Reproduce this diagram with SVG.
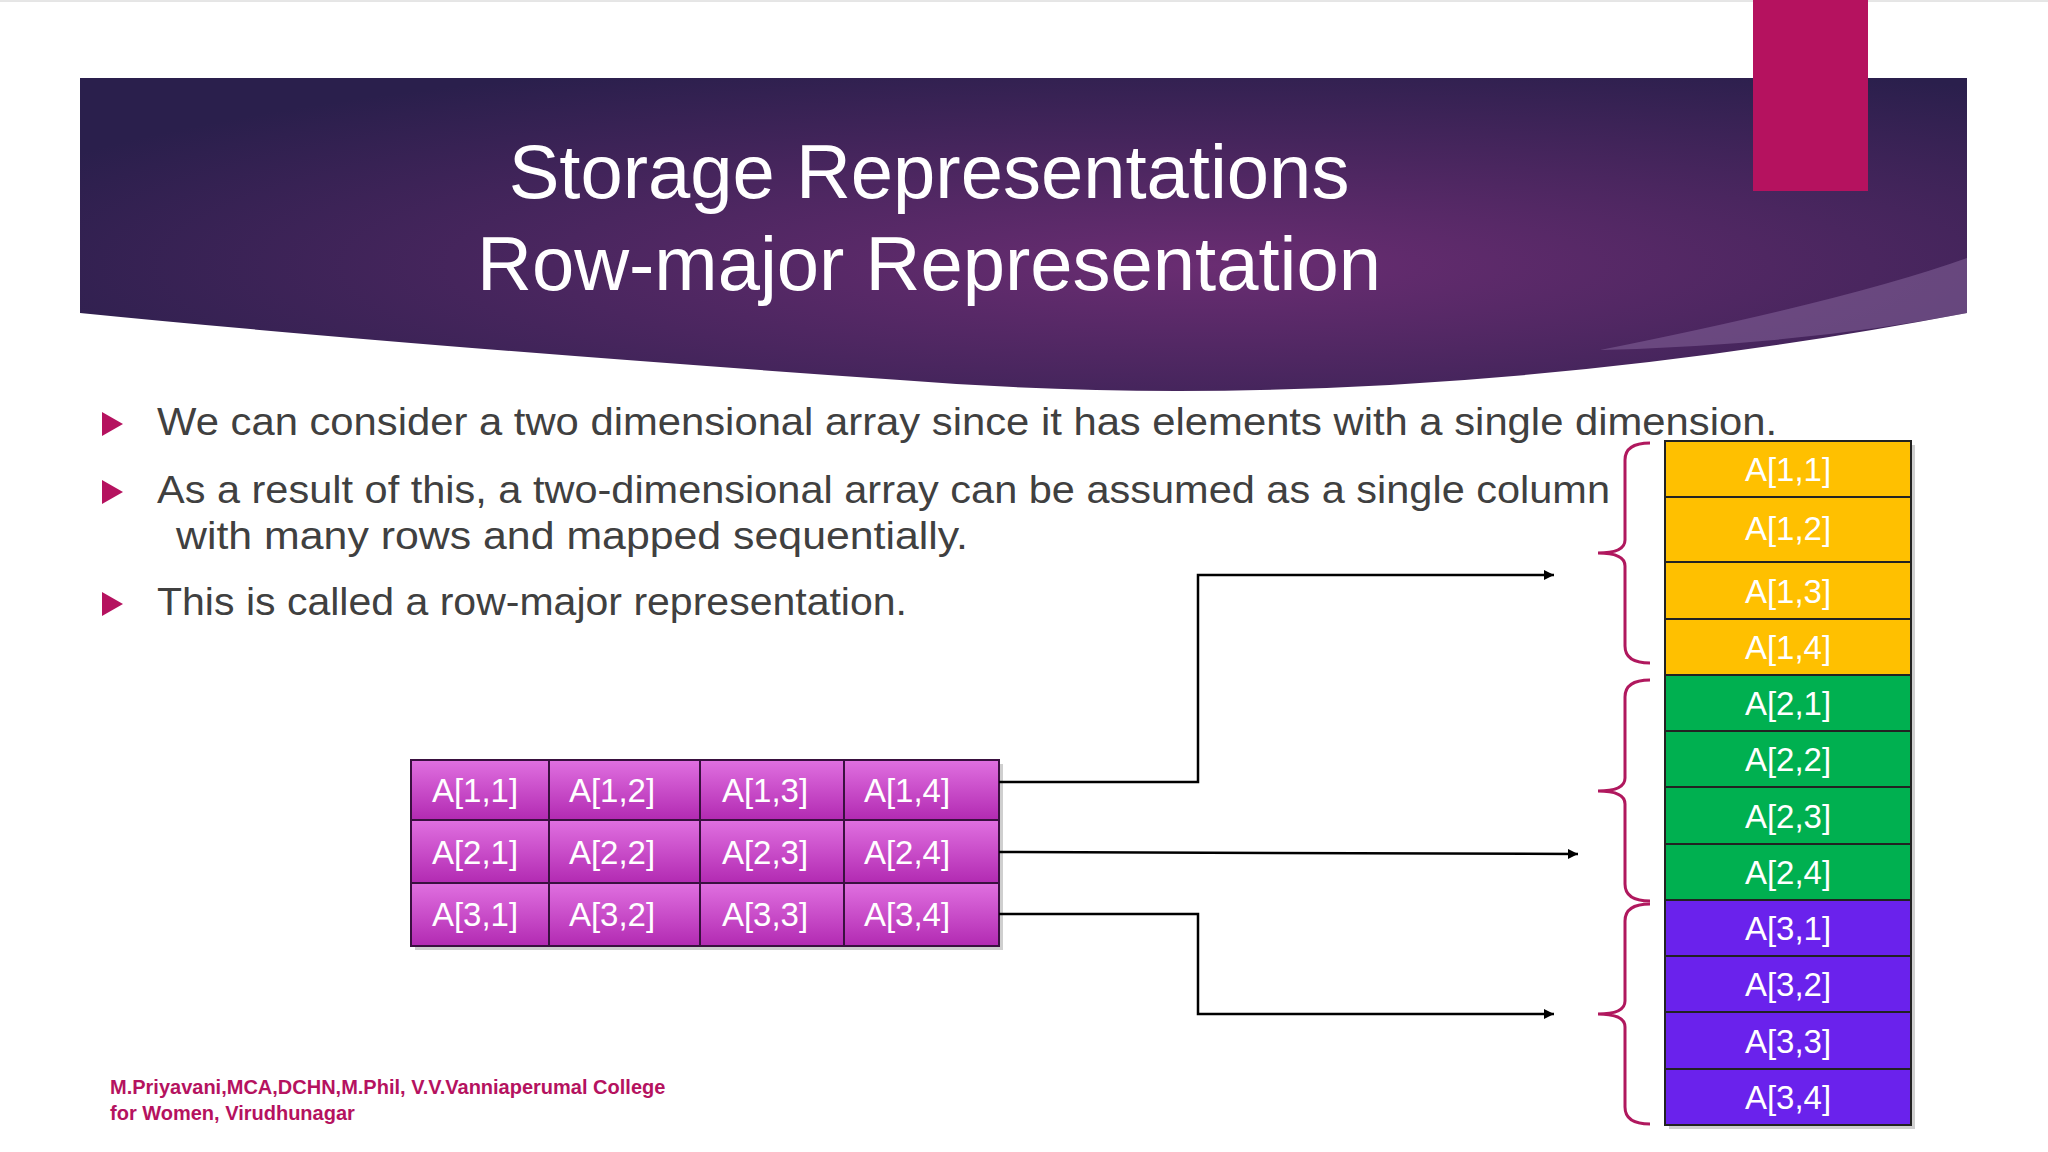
<svg xmlns="http://www.w3.org/2000/svg" width="2048" height="1152" viewBox="0 0 2048 1152">
<defs>
<radialGradient id="hg" cx="0.6" cy="0.6" r="0.7"><stop offset="0" stop-color="#6a2d72"/><stop offset="1" stop-color="#2a1f4c"/></radialGradient>
<linearGradient id="tg" x1="0" y1="0" x2="0" y2="1"><stop offset="0" stop-color="#e070e0"/><stop offset="1" stop-color="#b22ab2"/></linearGradient>
<marker id="ah" viewBox="0 0 10 10" refX="10" refY="5" markerWidth="10" markerHeight="10" markerUnits="userSpaceOnUse" orient="auto"><path d="M0,0 L10,5 L0,10 z" fill="#000"/></marker>
<style>
.t{font-family:"Liberation Sans",sans-serif;fill:#fff}
.b{font-family:"Liberation Sans",sans-serif;fill:#404040;font-size:38px}
.c{font-family:"Liberation Sans",sans-serif;fill:#fff;font-size:33px;text-anchor:middle}
.cell{stroke:#3a1040;stroke-width:2}
.r{stroke:#222;stroke-width:2}
.br{fill:none;stroke:#b0185e;stroke-width:3}
.ln{fill:none;stroke:#000;stroke-width:2.5;marker-end:url(#ah)}
</style>
</defs>
<rect width="2048" height="1152" fill="#fff"/>
<line x1="0" y1="1" x2="2048" y2="1" stroke="#ccc"/>
<g id="header">
<path d="M80,78 H1967 V313 Q1400,420 900,380 Q400,345 80,313 Z" fill="url(#hg)"/>
<path d="M1600,350 Q1850,300 1967,258 V313 Q1800,345 1600,350 Z" fill="#8a6aa0" opacity="0.5"/>
<rect x="1753" y="0" width="115" height="191" fill="#b5125f"/>
<text class="t" x="929" y="198" font-size="76" text-anchor="middle">Storage Representations</text>
<text class="t" x="929" y="290" font-size="76" text-anchor="middle">Row-major Representation</text>
</g>
<g id="bullets">
<path d="M102,412 L123,424 L102,436 Z" fill="#b5125f"/>
<path d="M102,480 L123,492 L102,504 Z" fill="#b5125f"/>
<path d="M102,592 L123,604 L102,616 Z" fill="#b5125f"/>
<text class="b" x="157" y="435" textLength="1620" lengthAdjust="spacingAndGlyphs">We can consider a two dimensional array since it has elements with a single dimension.</text>
<text class="b" x="157" y="503" textLength="1453" lengthAdjust="spacingAndGlyphs">As a result of this, a two-dimensional array can be assumed as a single column</text>
<text class="b" x="176" y="549" textLength="792" lengthAdjust="spacingAndGlyphs">with many rows and mapped sequentially.</text>
<text class="b" x="157" y="615" textLength="750" lengthAdjust="spacingAndGlyphs">This is called a row-major representation.</text>
</g>
<g id="table">
<rect x="415" y="764" width="588" height="186" fill="#888" opacity="0.4"/>
<g fill="url(#tg)" class="cell">
<rect x="411" y="760" width="138" height="60"/><rect x="549" y="760" width="151" height="60"/><rect x="700" y="760" width="144" height="60"/><rect x="844" y="760" width="155" height="60"/>
<rect x="411" y="820" width="138" height="63"/><rect x="549" y="820" width="151" height="63"/><rect x="700" y="820" width="144" height="63"/><rect x="844" y="820" width="155" height="63"/>
<rect x="411" y="883" width="138" height="63"/><rect x="549" y="883" width="151" height="63"/><rect x="700" y="883" width="144" height="63"/><rect x="844" y="883" width="155" height="63"/>
</g>
<g class="c">
<text x="475" y="802">A[1,1]</text><text x="612" y="802">A[1,2]</text><text x="765" y="802">A[1,3]</text><text x="907" y="802">A[1,4]</text>
<text x="475" y="864">A[2,1]</text><text x="612" y="864">A[2,2]</text><text x="765" y="864">A[2,3]</text><text x="907" y="864">A[2,4]</text>
<text x="475" y="926">A[3,1]</text><text x="612" y="926">A[3,2]</text><text x="765" y="926">A[3,3]</text><text x="907" y="926">A[3,4]</text>
</g>
</g>
<g id="column">
<rect x="1669" y="445" width="246" height="684" fill="#888" opacity="0.4"/>
<g class="r">
<rect x="1665" y="441" width="246" height="56" fill="#ffc000"/>
<rect x="1665" y="497" width="246" height="65" fill="#ffc000"/>
<rect x="1665" y="562" width="246" height="57" fill="#ffc000"/>
<rect x="1665" y="619" width="246" height="56" fill="#ffc000"/>
<rect x="1665" y="675" width="246" height="56" fill="#00b050"/>
<rect x="1665" y="731" width="246" height="56" fill="#00b050"/>
<rect x="1665" y="787" width="246" height="57" fill="#00b050"/>
<rect x="1665" y="844" width="246" height="56" fill="#00b050"/>
<rect x="1665" y="900" width="246" height="56" fill="#6a22ec"/>
<rect x="1665" y="956" width="246" height="56" fill="#6a22ec"/>
<rect x="1665" y="1012" width="246" height="57" fill="#6a22ec"/>
<rect x="1665" y="1069" width="246" height="56" fill="#6a22ec"/>
</g>
<g class="c">
<text x="1788" y="481">A[1,1]</text><text x="1788" y="540">A[1,2]</text><text x="1788" y="603">A[1,3]</text><text x="1788" y="659">A[1,4]</text>
<text x="1788" y="715">A[2,1]</text><text x="1788" y="771">A[2,2]</text><text x="1788" y="828">A[2,3]</text><text x="1788" y="884">A[2,4]</text>
<text x="1788" y="940">A[3,1]</text><text x="1788" y="996">A[3,2]</text><text x="1788" y="1053">A[3,3]</text><text x="1788" y="1109">A[3,4]</text>
</g>
</g>
<g id="braces">
<path class="br" d="M1650,443 Q1625,443 1625,460 V540 Q1625,553 1598,553 Q1625,553 1625,566 V646 Q1625,663 1650,663"/>
<path class="br" d="M1650,680 Q1625,680 1625,697 V778 Q1625,791 1598,791 Q1625,791 1625,804 V884 Q1625,901 1650,901"/>
<path class="br" d="M1650,904 Q1625,904 1625,921 V1001 Q1625,1014 1598,1014 Q1625,1014 1625,1027 V1107 Q1625,1124 1650,1124"/>
</g>
<g id="connectors">
<path class="ln" d="M999,782 H1198 V575 H1554"/>
<path class="ln" d="M999,852 L1578,854"/>
<path class="ln" d="M999,914 H1198 V1014 H1554"/>
</g>
<g id="footer" font-family="Liberation Sans, sans-serif" font-weight="bold" font-size="20" fill="#b5125f">
<text x="110" y="1094">M.Priyavani,MCA,DCHN,M.Phil, V.V.Vanniaperumal College</text>
<text x="110" y="1120">for Women, Virudhunagar</text>
</g>
</svg>
